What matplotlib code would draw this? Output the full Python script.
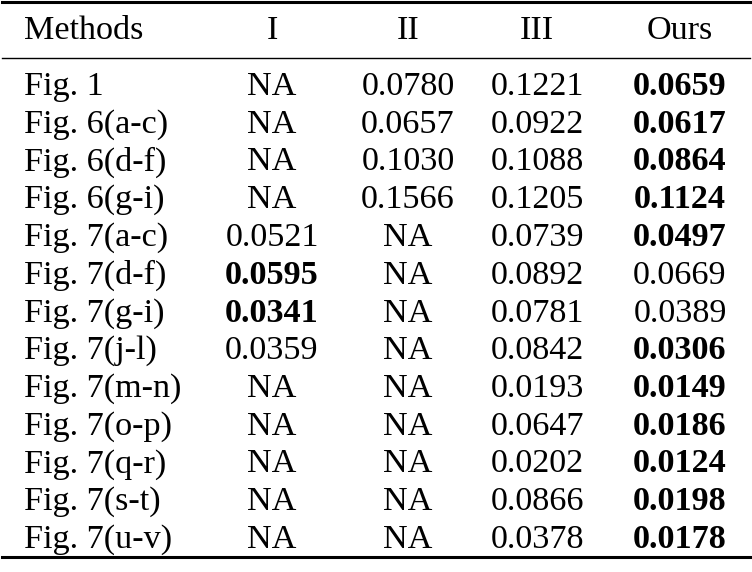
import matplotlib
matplotlib.use("Agg")
from matplotlib import pyplot as plt

headers = ["Methods", "I", "II", "III", "Ours"]
methods = ["Fig. 1", "Fig. 6(a-c)", "Fig. 6(d-f)", "Fig. 6(g-i)", "Fig. 7(a-c)",
           "Fig. 7(d-f)", "Fig. 7(g-i)", "Fig. 7(j-l)", "Fig. 7(m-n)", "Fig. 7(o-p)",
           "Fig. 7(q-r)", "Fig. 7(s-t)", "Fig. 7(u-v)"]
col_I = ["NA", "NA", "NA", "NA", "0.0521", "0.0595", "0.0341", "0.0359",
         "NA", "NA", "NA", "NA", "NA"]
col_II = ["0.0780", "0.0657", "0.1030", "0.1566", "NA", "NA", "NA", "NA",
          "NA", "NA", "NA", "NA", "NA"]
col_III = ["0.1221", "0.0922", "0.1088", "0.1205", "0.0739", "0.0892", "0.0781",
           "0.0842", "0.0193", "0.0647", "0.0202", "0.0866", "0.0378"]
col_ours = ["0.0659", "0.0617", "0.0864", "0.1124", "0.0497", "0.0669", "0.0389",
            "0.0306", "0.0149", "0.0186", "0.0124", "0.0198", "0.0178"]
# best (bold) cell per row: column index
best = [4, 4, 4, 4, 4, 1, 1, 4, 4, 4, 4, 4, 4]

plt.rcParams["font.family"] = ["Liberation Serif", "DejaVu Serif"]

W, H = 752, 572
fig = plt.figure(figsize=(W / 100, H / 100), dpi=100)
ax = fig.add_axes([0, 0, 1, 1])
ax.set_xlim(0, W)
ax.set_ylim(H, 0)
ax.axis("off")

fs = 24.6
col_x = [24, 272, 408, 537, 680]
header_y = 39
row_y0, row_dy = 95, 37.75

for j, h in enumerate(headers):
    ax.text(col_x[j], header_y, h, fontsize=fs, va="baseline",
            ha="left" if j == 0 else "center")

columns = [methods, col_I, col_II, col_III, col_ours]
for i in range(len(methods)):
    y = row_y0 + i * row_dy
    for j, col in enumerate(columns):
        ax.text(col_x[j], y, col[i], fontsize=fs, va="baseline",
                ha="left" if j == 0 else "center",
                fontweight="bold" if best[i] == j else "normal")

ax.plot([2, W - 2], [1.5, 1.5], color="black", lw=2.2)
ax.plot([2, W - 2], [57.5, 57.5], color="black", lw=1.0)
ax.plot([2, W - 2], [557, 557], color="black", lw=2.2)

fig.savefig("out.png", dpi=100)
